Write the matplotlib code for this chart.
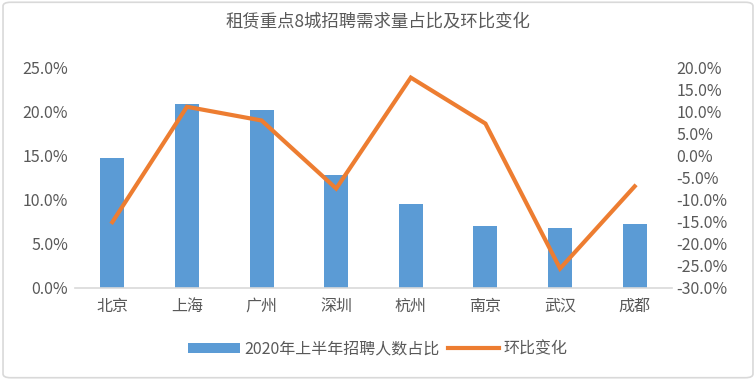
import numpy as np
import matplotlib.pyplot as plt
from matplotlib.ticker import FuncFormatter, MultipleLocator
from matplotlib.patches import FancyBboxPatch

plt.rcParams['font.family'] = ['Noto Sans CJK SC', 'DejaVu Sans']

cities = ['北京', '上海', '广州', '深圳', '杭州', '南京', '武汉', '成都']
share = [14.7, 20.8, 20.1, 12.8, 9.5, 7.0, 6.8, 7.2]       # 2020年上半年招聘人数占比 (%)
mom = [-15.1, 11.0, 7.9, -7.5, 17.6, 7.2, -25.6, -7.0]     # 环比变化 (%)

bar_color = '#5B9BD5'
line_color = '#ED7D31'
text_color = '#595959'

fig = plt.figure(figsize=(7.56, 3.8), dpi=100)
fig.patches.append(FancyBboxPatch((0.004, 0.006), 0.992, 0.988,
                                  boxstyle='round,pad=0,rounding_size=0.01',
                                  transform=fig.transFigure, fc='none',
                                  ec='#D9D9D9', lw=1.2, zorder=-1))

ax = fig.add_axes([75 / 756, 1 - 288 / 380, 597 / 756, 221 / 380])
x = np.arange(len(cities))
bars = ax.bar(x, share, width=0.32, color=bar_color, label='2020年上半年招聘人数占比', zorder=2)
ax.set_xlim(-0.5, len(cities) - 0.5)
ax.set_ylim(0, 25)
ax.yaxis.set_major_locator(MultipleLocator(5))
ax.yaxis.set_major_formatter(FuncFormatter(lambda v, p: '%.1f%%' % v))
ax.set_xticks(x)
ax.set_xticklabels(cities)

ax2 = ax.twinx()
line, = ax2.plot(x, mom, color=line_color, lw=3, label='环比变化', zorder=3,
                 solid_joinstyle='miter')
ax2.set_ylim(-30, 20)
ax2.yaxis.set_major_locator(MultipleLocator(5))
ax2.yaxis.set_major_formatter(FuncFormatter(lambda v, p: '%.1f%%' % v))

for a in (ax, ax2):
    for s in a.spines.values():
        s.set_visible(False)
    a.tick_params(length=0, labelsize=11.5, colors=text_color)
ax.spines['bottom'].set_visible(True)
ax.spines['bottom'].set_color('#D9D9D9')
ax.spines['bottom'].set_linewidth(1.2)
ax.tick_params(axis='x', pad=7)
ax.tick_params(axis='y', pad=5)
ax2.tick_params(axis='y', pad=3)

fig.text(0.5, 1 - 22 / 380, '租赁重点8城招聘需求量占比及环比变化', ha='center', va='center',
         fontsize=12.5, color=text_color)

fig.legend([bars, line], ['2020年上半年招聘人数占比', '环比变化'], loc='center',
           bbox_to_anchor=(0.5, 1 - 349 / 380), ncol=2, frameon=False,
           fontsize=11.5, labelcolor=text_color, handlelength=3.2,
           handletextpad=0.3, columnspacing=0.5, handleheight=0.6)

fig.savefig('out.png', dpi=100)
